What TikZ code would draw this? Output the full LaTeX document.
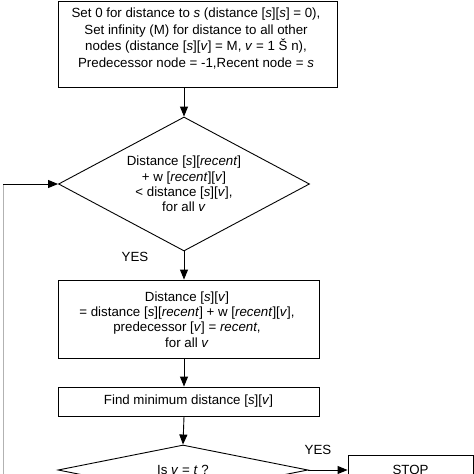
\documentclass[tikz,border=0pt]{standalone}
\usepackage{fontspec}
\setmainfont{Liberation Sans}
\usetikzlibrary{shapes.geometric,arrows.meta}
\begin{document}
\begin{tikzpicture}[x=1pt,y=-1pt,
  procbox/.style={draw=black, line width=0.9pt, inner sep=0pt},
  txt/.style={align=center, font=\fontsize{13.3}{15.3}\selectfont, inner sep=0pt},
  decision/.style={draw=black, diamond, line width=0.9pt, inner sep=0pt},
  arr/.style={-{Triangle[length=10pt,width=8pt]}, line width=0.9pt},
  lbl/.style={font=\fontsize{13.3}{15}\selectfont, inner sep=0pt}]
\useasboundingbox (0,0) rectangle (474,474);
\clip (0,0) rectangle (474,474);
\fill[white] (0,0) rectangle (474,474);
% top box
\node[procbox, minimum width=279pt, minimum height=86pt] (init) at (197.5,44) {};
\node[txt, font=\fontsize{13.3}{16.6}\selectfont] (inittext) at (196,38.5)
  {Set 0 for distance to \textit{s} (distance [\textit{s}][\textit{s}] = 0),\\
   Set infinity (M) for distance to all other\\
   nodes (distance [\textit{s}][\textit{v}] = M, \textit{v} = 1 Š n),\\
   Predecessor node = -1,Recent node = \textit{s}};
% decision 1
\node[decision, txt, draw, line width=0.9pt, minimum width=251pt, minimum height=134pt, aspect=1.873] (cond) at (184,184)
  {Distance [\textit{s}][\textit{recent}]\\
   + w [\textit{recent}][\textit{v}]\\
   < distance [\textit{s}][\textit{v}],\\
   for all \textit{v}};
% update box
\node[procbox, minimum width=261pt, minimum height=78pt] (update) at (188.5,319) {};
\node[txt] (updatetext) at (187,319.5)
  {Distance [\textit{s}][\textit{v}]\\
   = distance [\textit{s}][\textit{recent}] + w [\textit{recent}][\textit{v}],\\
   predecessor [\textit{v}] = \textit{recent},\\
   for all \textit{v}};
% find box
\node[procbox, txt, draw, line width=0.9pt, minimum width=261pt, minimum height=29pt] (find) at (188.5,401.5)
  {Find minimum distance [\textit{s}][\textit{v}]};
% decision 2
\node[decision, txt, draw, line width=0.9pt, minimum width=250pt, minimum height=50pt, aspect=5] (check) at (183,470)
  {Is \textit{v} = \textit{t} ?};
% stop
\node[procbox, txt, draw, line width=0.9pt, minimum width=125pt, minimum height=30pt] (stop) at (410.5,470) {STOP};
% labels
\node[lbl] (yes1) at (135,257) {YES};
\node[lbl] (yes2) at (318,450) {YES};
% connectors
\coordinate (loopbot) at (3,480);
\coordinate (loopcorner) at (3,184);
\draw[arr] (init.south -| cond.north) -- (cond.north);
\draw[arr] (cond.south) -- (cond.south |- update.north);
\draw[arr] (cond.south |- update.south) -- (cond.south |- find.north);
\draw[arr] (cond.south |- find.south) -- (check.north);
\draw[arr] (check.east) -- (stop.west |- check.east);
\draw[line width=0.9pt, gray!60] (loopbot) -- (loopcorner);
\draw[arr] (loopcorner) -- (cond.west);
\end{tikzpicture}
\end{document}
